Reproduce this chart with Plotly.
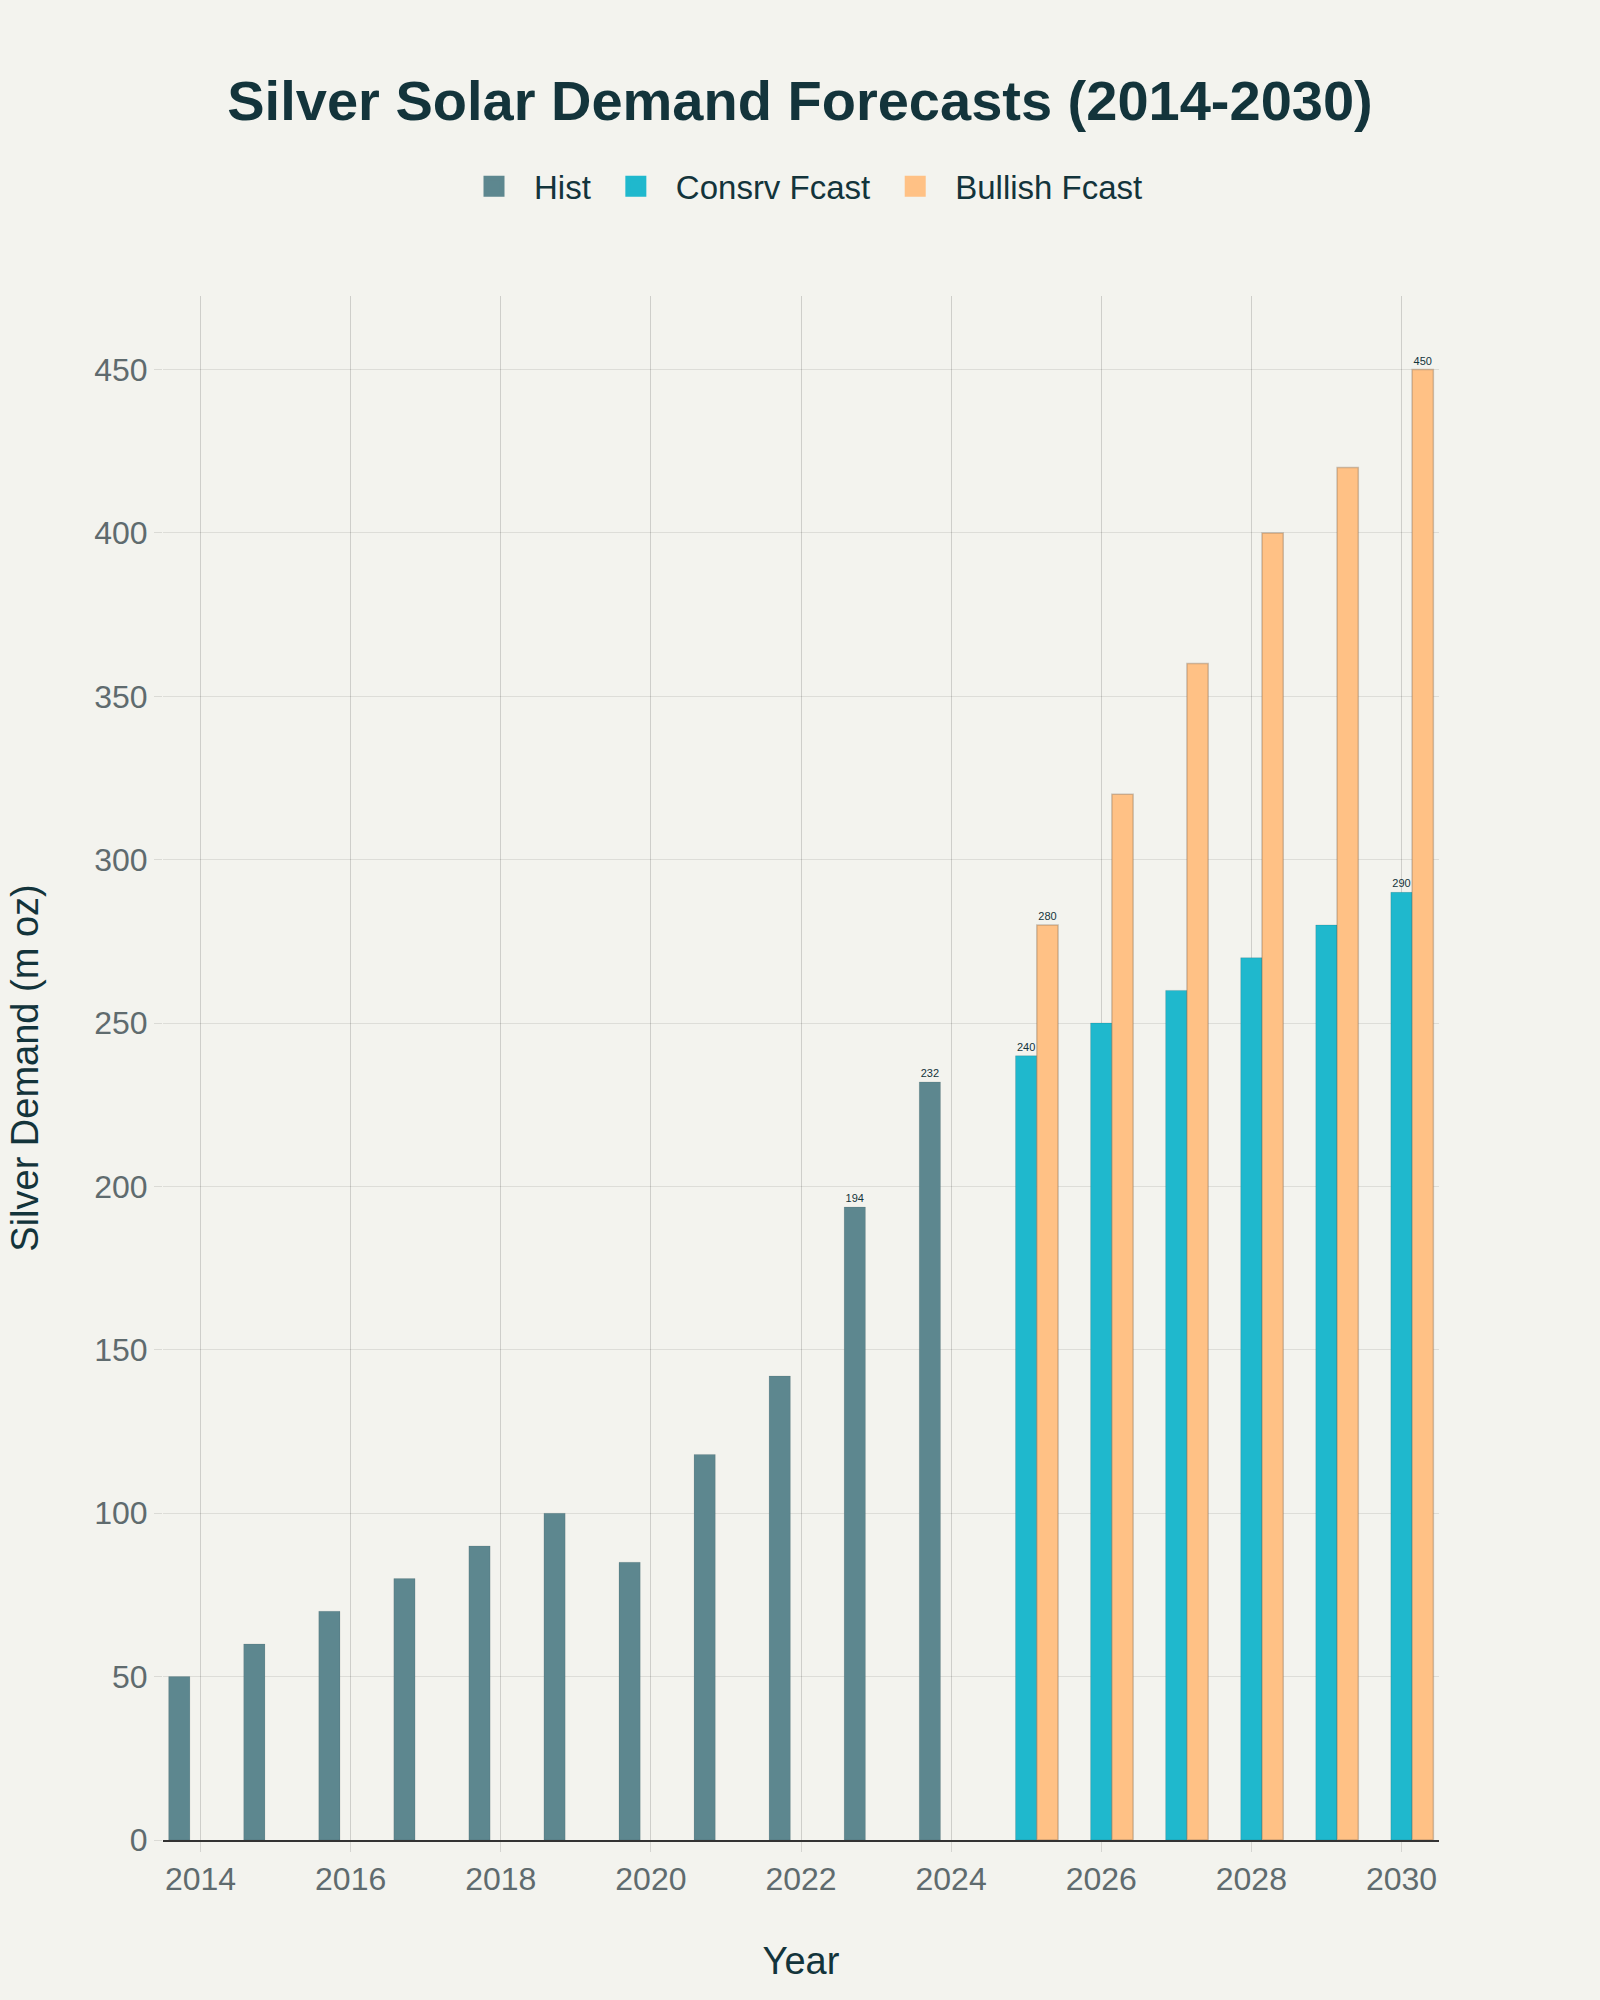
import plotly.graph_objects as go

hist_years = [2014, 2015, 2016, 2017, 2018, 2019, 2020, 2021, 2022, 2023, 2024]
hist_vals = [50, 60, 70, 80, 90, 100, 85, 118, 142, 193.7, 232]
hist_text = ["", "", "", "", "", "", "", "", "", "194", "232"]

fc_years = [2025, 2026, 2027, 2028, 2029, 2030]
consrv_vals = [240, 250, 260, 270, 280, 290]
consrv_text = ["240", "", "", "", "", "290"]
bull_vals = [280, 320, 360, 400, 420, 450]
bull_text = ["280", "", "", "", "", "450"]

series_names = ["Hist", "Consrv Fcast", "Bullish Fcast"]
series_colors = ["#5D878F", "#1FB8CD", "#FFC185"]
series_lines = ["rgba(0,0,0,0.08)", "rgba(0,0,0,0.12)", "rgba(120,100,80,0.35)"]

FONT = "Liberation Sans"
TXT = "#13343B"

fig = go.Figure()
for xs, ys, txt, nm, col, lc, lw in [
    (hist_years, hist_vals, hist_text, series_names[0], series_colors[0], series_lines[0], 1),
    (fc_years, consrv_vals, consrv_text, series_names[1], series_colors[1], series_lines[1], 1),
    (fc_years, bull_vals, bull_text, series_names[2], series_colors[2], series_lines[2], 1.5),
]:
    fig.add_trace(go.Bar(x=xs, y=ys, name=nm, text=txt, textposition="outside",
                         cliponaxis=False, textfont=dict(size=11, color=TXT),
                         marker=dict(color=col, line=dict(color=lc, width=lw)),
                         showlegend=False, legendgroup=nm))

# legend entries (larger square swatches)
for nm, col in zip(series_names, series_colors):
    fig.add_trace(go.Scatter(x=[None], y=[None], mode="markers", name=nm, legendgroup=nm,
                             marker=dict(symbol="square", size=16, color=col,
                                         line=dict(color=col, width=5)),
                             showlegend=True, hoverinfo="skip"))

fig.update_layout(
    width=1600, height=2000,
    barmode="group", bargap=0.15,
    paper_bgcolor="#F3F3EE", plot_bgcolor="#F3F3EE",
    font=dict(family=FONT, color=TXT, size=32),
    title=dict(text="<b>Silver Solar Demand Forecasts (2014-2030)</b>", x=0.5, xanchor="center",
               y=0.95, yanchor="middle", font=dict(size=56, color=TXT, family=FONT)),
    legend=dict(orientation="h", x=0.5, xanchor="center", y=1.071, yanchor="middle",
                font=dict(size=33, color=TXT), bgcolor="rgba(0,0,0,0)", itemwidth=70,
                itemsizing="trace"),
    margin=dict(l=163, r=161, t=296, b=160),
)
fig.update_xaxes(title=dict(text="Year", font=dict(size=38, color=TXT), standoff=51),
                 tickfont=dict(size=32, color="#5f6b6e"),
                 range=[2013.5, 2030.5],
                 dtick=2, tick0=2014, showgrid=True, gridcolor="rgba(0,0,0,0.15)", gridwidth=1,
                 ticks="outside", ticklen=10, tickcolor="rgba(0,0,0,0.12)",
                 showline=True, linecolor="#333333", linewidth=2, zeroline=False)
fig.update_yaxes(title=dict(text="Silver Demand (m oz)", font=dict(size=38, color=TXT), standoff=43),
                 tickfont=dict(size=32, color="#5f6b6e"),
                 range=[0, 472.5], dtick=50, showgrid=True, gridcolor="rgba(0,0,0,0.09)", gridwidth=1,
                 ticks="outside", ticklen=8, tickcolor="rgba(0,0,0,0.1)",
                 showline=False, zeroline=False)

fig.write_html("out.html")
